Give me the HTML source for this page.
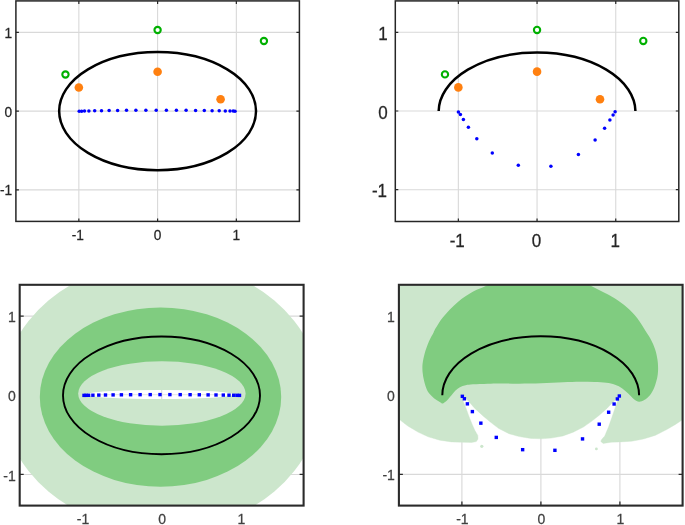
<!DOCTYPE html>
<html><head><meta charset="utf-8"><title>Figure</title>
<style>html,body{margin:0;padding:0;background:#fff}svg{display:block}text{font-family:"Liberation Sans",sans-serif}</style>
</head><body>
<svg width="685" height="525" viewBox="0 0 685 525">
<rect width="685" height="525" fill="#fff"/>
<line x1="78.85" y1="0.90" x2="78.85" y2="221.40" stroke="#d9d9d9" stroke-width="1.1"/>
<line x1="15.90" y1="189.85" x2="299.40" y2="189.85" stroke="#d9d9d9" stroke-width="1.1"/>
<line x1="157.60" y1="0.90" x2="157.60" y2="221.40" stroke="#d9d9d9" stroke-width="1.1"/>
<line x1="15.90" y1="111.10" x2="299.40" y2="111.10" stroke="#d9d9d9" stroke-width="1.1"/>
<line x1="236.35" y1="0.90" x2="236.35" y2="221.40" stroke="#d9d9d9" stroke-width="1.1"/>
<line x1="15.90" y1="32.35" x2="299.40" y2="32.35" stroke="#d9d9d9" stroke-width="1.1"/>
<ellipse cx="157.60" cy="111.10" rx="98.44" ry="59.06" fill="none" stroke="#000" stroke-width="2.5"/>
<circle cx="79.20" cy="111.19" r="1.75" fill="#0000ff"/>
<circle cx="81.60" cy="111.13" r="1.75" fill="#0000ff"/>
<circle cx="84.50" cy="111.06" r="1.75" fill="#0000ff"/>
<circle cx="88.90" cy="110.96" r="1.75" fill="#0000ff"/>
<circle cx="94.70" cy="110.84" r="1.75" fill="#0000ff"/>
<circle cx="101.50" cy="110.71" r="1.75" fill="#0000ff"/>
<circle cx="109.10" cy="110.58" r="1.75" fill="#0000ff"/>
<circle cx="117.60" cy="110.46" r="1.75" fill="#0000ff"/>
<circle cx="126.50" cy="110.36" r="1.75" fill="#0000ff"/>
<circle cx="135.90" cy="110.28" r="1.75" fill="#0000ff"/>
<circle cx="145.90" cy="110.22" r="1.75" fill="#0000ff"/>
<circle cx="156.20" cy="110.20" r="1.75" fill="#0000ff"/>
<circle cx="166.40" cy="110.21" r="1.75" fill="#0000ff"/>
<circle cx="176.40" cy="110.26" r="1.75" fill="#0000ff"/>
<circle cx="186.10" cy="110.33" r="1.75" fill="#0000ff"/>
<circle cx="195.60" cy="110.43" r="1.75" fill="#0000ff"/>
<circle cx="204.30" cy="110.55" r="1.75" fill="#0000ff"/>
<circle cx="212.10" cy="110.68" r="1.75" fill="#0000ff"/>
<circle cx="219.20" cy="110.81" r="1.75" fill="#0000ff"/>
<circle cx="225.30" cy="110.94" r="1.75" fill="#0000ff"/>
<circle cx="230.00" cy="111.04" r="1.75" fill="#0000ff"/>
<circle cx="233.20" cy="111.12" r="1.75" fill="#0000ff"/>
<circle cx="235.00" cy="111.16" r="1.75" fill="#0000ff"/>
<circle cx="78.85" cy="87.47" r="4.3" fill="#ff8010"/>
<circle cx="157.60" cy="71.72" r="4.3" fill="#ff8010"/>
<circle cx="220.60" cy="99.29" r="4.3" fill="#ff8010"/>
<circle cx="65.46" cy="74.48" r="3.15" fill="#fff" stroke="#00b000" stroke-width="2.1"/>
<circle cx="157.60" cy="29.99" r="3.15" fill="#fff" stroke="#00b000" stroke-width="2.1"/>
<circle cx="263.91" cy="41.01" r="3.15" fill="#fff" stroke="#00b000" stroke-width="2.1"/>
<rect x="15.90" y="0.90" width="283.50" height="220.50" fill="none" stroke="#262626" stroke-width="1.5"/>
<path d="M78.85 221.40v-3M78.85 0.90v3M15.90 189.85h3M299.40 189.85h-3" stroke="#262626" stroke-width="1.2" fill="none"/>
<path d="M157.60 221.40v-3M157.60 0.90v3M15.90 111.10h3M299.40 111.10h-3" stroke="#262626" stroke-width="1.2" fill="none"/>
<path d="M236.35 221.40v-3M236.35 0.90v3M15.90 32.35h3M299.40 32.35h-3" stroke="#262626" stroke-width="1.2" fill="none"/>
<text transform="translate(77.75 239.90) scale(1 1.08)" font-size="13.7" text-anchor="middle" fill="#262626" stroke="#262626" stroke-width="0.25">-1</text>
<text transform="translate(12.10 195.37) scale(1 1.08)" font-size="13.7" text-anchor="end" fill="#262626" stroke="#262626" stroke-width="0.25">-1</text>
<text transform="translate(157.60 239.90) scale(1 1.08)" font-size="13.7" text-anchor="middle" fill="#262626" stroke="#262626" stroke-width="0.25">0</text>
<text transform="translate(12.10 116.62) scale(1 1.08)" font-size="13.7" text-anchor="end" fill="#262626" stroke="#262626" stroke-width="0.25">0</text>
<text transform="translate(236.35 239.90) scale(1 1.08)" font-size="13.7" text-anchor="middle" fill="#262626" stroke="#262626" stroke-width="0.25">1</text>
<text transform="translate(12.10 37.87) scale(1 1.08)" font-size="13.7" text-anchor="end" fill="#262626" stroke="#262626" stroke-width="0.25">1</text>
<line x1="458.35" y1="0.90" x2="458.35" y2="221.50" stroke="#d9d9d9" stroke-width="1.1"/>
<line x1="395.30" y1="189.70" x2="678.80" y2="189.70" stroke="#d9d9d9" stroke-width="1.1"/>
<line x1="537.05" y1="0.90" x2="537.05" y2="221.50" stroke="#d9d9d9" stroke-width="1.1"/>
<line x1="395.30" y1="111.00" x2="678.80" y2="111.00" stroke="#d9d9d9" stroke-width="1.1"/>
<line x1="615.75" y1="0.90" x2="615.75" y2="221.50" stroke="#d9d9d9" stroke-width="1.1"/>
<line x1="395.30" y1="32.30" x2="678.80" y2="32.30" stroke="#d9d9d9" stroke-width="1.1"/>
<path d="M438.67 111.00 A98.38 59.03 0 0 1 635.42 111.00" fill="none" stroke="#000" stroke-width="2.5"/>
<circle cx="458.40" cy="112.00" r="1.75" fill="#0000ff"/>
<circle cx="460.40" cy="114.50" r="1.75" fill="#0000ff"/>
<circle cx="463.40" cy="119.50" r="1.75" fill="#0000ff"/>
<circle cx="468.40" cy="127.20" r="1.75" fill="#0000ff"/>
<circle cx="476.80" cy="138.70" r="1.75" fill="#0000ff"/>
<circle cx="492.30" cy="152.90" r="1.75" fill="#0000ff"/>
<circle cx="518.30" cy="165.20" r="1.75" fill="#0000ff"/>
<circle cx="615.10" cy="111.70" r="1.75" fill="#0000ff"/>
<circle cx="613.10" cy="115.00" r="1.75" fill="#0000ff"/>
<circle cx="609.90" cy="120.00" r="1.75" fill="#0000ff"/>
<circle cx="604.60" cy="128.20" r="1.75" fill="#0000ff"/>
<circle cx="595.10" cy="139.90" r="1.75" fill="#0000ff"/>
<circle cx="578.40" cy="154.40" r="1.75" fill="#0000ff"/>
<circle cx="550.90" cy="166.20" r="1.75" fill="#0000ff"/>
<circle cx="458.35" cy="87.39" r="4.3" fill="#ff8010"/>
<circle cx="537.05" cy="71.65" r="4.3" fill="#ff8010"/>
<circle cx="600.01" cy="99.19" r="4.3" fill="#ff8010"/>
<circle cx="444.97" cy="74.40" r="3.15" fill="#fff" stroke="#00b000" stroke-width="2.1"/>
<circle cx="537.05" cy="29.94" r="3.15" fill="#fff" stroke="#00b000" stroke-width="2.1"/>
<circle cx="643.29" cy="40.96" r="3.15" fill="#fff" stroke="#00b000" stroke-width="2.1"/>
<rect x="395.30" y="0.90" width="283.50" height="220.60" fill="none" stroke="#262626" stroke-width="1.5"/>
<path d="M458.35 221.50v-3M458.35 0.90v3M395.30 189.70h3M678.80 189.70h-3" stroke="#262626" stroke-width="1.2" fill="none"/>
<path d="M537.05 221.50v-3M537.05 0.90v3M395.30 111.00h3M678.80 111.00h-3" stroke="#262626" stroke-width="1.2" fill="none"/>
<path d="M615.75 221.50v-3M615.75 0.90v3M395.30 32.30h3M678.80 32.30h-3" stroke="#262626" stroke-width="1.2" fill="none"/>
<text transform="translate(457.25 247.00) scale(1 1.08)" font-size="17" text-anchor="middle" fill="#262626" stroke="#262626" stroke-width="0.25">-1</text>
<text transform="translate(387.00 197.44) scale(1 1.08)" font-size="17" text-anchor="end" fill="#262626" stroke="#262626" stroke-width="0.25">-1</text>
<text transform="translate(536.55 247.00) scale(1 1.08)" font-size="17" text-anchor="middle" fill="#262626" stroke="#262626" stroke-width="0.25">0</text>
<text transform="translate(387.80 118.75) scale(1 1.08)" font-size="17" text-anchor="end" fill="#262626" stroke="#262626" stroke-width="0.25">0</text>
<text transform="translate(615.25 247.00) scale(1 1.08)" font-size="17" text-anchor="middle" fill="#262626" stroke="#262626" stroke-width="0.25">1</text>
<text transform="translate(387.80 40.05) scale(1 1.08)" font-size="17" text-anchor="end" fill="#262626" stroke="#262626" stroke-width="0.25">1</text>
<defs><clipPath id="c3"><rect x="19.7" y="284.8" width="283.90000000000003" height="220.8"/></clipPath>
<filter id="bl" x="-5%" y="-5%" width="110%" height="110%"><feGaussianBlur stdDeviation="0.45"/></filter></defs>
<g filter="url(#bl)">
<g clip-path="url(#c3)">
<line x1="82.55" y1="284.80" x2="82.55" y2="505.60" stroke="#d9d9d9" stroke-width="1.15"/>
<line x1="19.70" y1="474.45" x2="303.60" y2="474.45" stroke="#d9d9d9" stroke-width="1.15"/>
<line x1="161.70" y1="284.80" x2="161.70" y2="505.60" stroke="#d9d9d9" stroke-width="1.15"/>
<line x1="19.70" y1="395.30" x2="303.60" y2="395.30" stroke="#d9d9d9" stroke-width="1.15"/>
<line x1="240.85" y1="284.80" x2="240.85" y2="505.60" stroke="#d9d9d9" stroke-width="1.15"/>
<line x1="19.70" y1="316.15" x2="303.60" y2="316.15" stroke="#d9d9d9" stroke-width="1.15"/>
<path d="M82.55 505.60v-4M19.70 474.45h4M303.60 474.45h-4" stroke="#2c2c2c" stroke-width="1.3" fill="none"/>
<path d="M161.70 505.60v-4M19.70 395.30h4M303.60 395.30h-4" stroke="#2c2c2c" stroke-width="1.3" fill="none"/>
<path d="M240.85 505.60v-4M19.70 316.15h4M303.60 316.15h-4" stroke="#2c2c2c" stroke-width="1.3" fill="none"/>
<ellipse cx="161.4" cy="396.0" rx="159.8" ry="135.0" fill="#cce6cc"/>
<ellipse cx="160.5" cy="397.1" rx="120.7" ry="89.6" fill="#80cc80"/>
<ellipse cx="161.9" cy="393.5" rx="83.7" ry="32.3" fill="#cce6cc"/>
<ellipse cx="159.8" cy="394.5" rx="73.5" ry="4.6" fill="#fff"/>
<line x1="161.7" y1="390" x2="161.7" y2="399" stroke="#d9d9d9" stroke-width="1.15"/>
<line x1="100" y1="394.7" x2="225" y2="394.7" stroke="#e4e4e4" stroke-width="1"/>
<ellipse cx="161.5" cy="395.4" rx="98.5" ry="58.9" fill="none" stroke="#000" stroke-width="1.9"/>
<rect x="82.30" y="393.67" width="3.4" height="3.4" fill="#0000ff"/>
<rect x="84.30" y="393.64" width="3.4" height="3.4" fill="#0000ff"/>
<rect x="86.90" y="393.59" width="3.4" height="3.4" fill="#0000ff"/>
<rect x="91.20" y="393.51" width="3.4" height="3.4" fill="#0000ff"/>
<rect x="97.10" y="393.41" width="3.4" height="3.4" fill="#0000ff"/>
<rect x="103.80" y="393.30" width="3.4" height="3.4" fill="#0000ff"/>
<rect x="111.40" y="393.20" width="3.4" height="3.4" fill="#0000ff"/>
<rect x="119.70" y="393.11" width="3.4" height="3.4" fill="#0000ff"/>
<rect x="128.90" y="393.02" width="3.4" height="3.4" fill="#0000ff"/>
<rect x="138.40" y="392.96" width="3.4" height="3.4" fill="#0000ff"/>
<rect x="148.50" y="392.92" width="3.4" height="3.4" fill="#0000ff"/>
<rect x="158.30" y="392.90" width="3.4" height="3.4" fill="#0000ff"/>
<rect x="168.20" y="392.91" width="3.4" height="3.4" fill="#0000ff"/>
<rect x="178.50" y="392.94" width="3.4" height="3.4" fill="#0000ff"/>
<rect x="188.40" y="393.00" width="3.4" height="3.4" fill="#0000ff"/>
<rect x="197.60" y="393.08" width="3.4" height="3.4" fill="#0000ff"/>
<rect x="206.40" y="393.18" width="3.4" height="3.4" fill="#0000ff"/>
<rect x="214.30" y="393.28" width="3.4" height="3.4" fill="#0000ff"/>
<rect x="221.60" y="393.39" width="3.4" height="3.4" fill="#0000ff"/>
<rect x="227.30" y="393.48" width="3.4" height="3.4" fill="#0000ff"/>
<rect x="232.00" y="393.57" width="3.4" height="3.4" fill="#0000ff"/>
<rect x="235.30" y="393.63" width="3.4" height="3.4" fill="#0000ff"/>
<rect x="237.80" y="393.68" width="3.4" height="3.4" fill="#0000ff"/>
</g>
<rect x="19.70" y="284.80" width="283.90" height="220.80" fill="none" stroke="#2c2c2c" stroke-width="2.1"/>
<text transform="translate(83.05 523.90) scale(1 1.08)" font-size="14" text-anchor="middle" fill="#404040" stroke="#404040" stroke-width="0.25">-1</text>
<text transform="translate(15.70 480.54) scale(1 1.08)" font-size="14" text-anchor="end" fill="#404040" stroke="#404040" stroke-width="0.25">-1</text>
<text transform="translate(162.20 523.90) scale(1 1.08)" font-size="14" text-anchor="middle" fill="#404040" stroke="#404040" stroke-width="0.25">0</text>
<text transform="translate(15.70 401.39) scale(1 1.08)" font-size="14" text-anchor="end" fill="#404040" stroke="#404040" stroke-width="0.25">0</text>
<text transform="translate(241.35 523.90) scale(1 1.08)" font-size="14" text-anchor="middle" fill="#404040" stroke="#404040" stroke-width="0.25">1</text>
<text transform="translate(15.70 322.24) scale(1 1.08)" font-size="14" text-anchor="end" fill="#404040" stroke="#404040" stroke-width="0.25">1</text>
</g>
<defs><clipPath id="c4"><rect x="398.9" y="284.8" width="283.70000000000005" height="220.8"/></clipPath></defs>
<g filter="url(#bl)">
<g clip-path="url(#c4)">
<line x1="461.90" y1="284.80" x2="461.90" y2="505.60" stroke="#d9d9d9" stroke-width="1.15"/>
<line x1="398.90" y1="474.30" x2="682.60" y2="474.30" stroke="#d9d9d9" stroke-width="1.15"/>
<line x1="540.90" y1="284.80" x2="540.90" y2="505.60" stroke="#d9d9d9" stroke-width="1.15"/>
<line x1="398.90" y1="395.30" x2="682.60" y2="395.30" stroke="#d9d9d9" stroke-width="1.15"/>
<line x1="619.90" y1="284.80" x2="619.90" y2="505.60" stroke="#d9d9d9" stroke-width="1.15"/>
<line x1="398.90" y1="316.30" x2="682.60" y2="316.30" stroke="#d9d9d9" stroke-width="1.15"/>
<path d="M461.90 505.60v-4M398.90 474.30h4M682.60 474.30h-4" stroke="#2c2c2c" stroke-width="1.3" fill="none"/>
<path d="M540.90 505.60v-4M398.90 395.30h4M682.60 395.30h-4" stroke="#2c2c2c" stroke-width="1.3" fill="none"/>
<path d="M619.90 505.60v-4M398.90 316.30h4M682.60 316.30h-4" stroke="#2c2c2c" stroke-width="1.3" fill="none"/>
<path d="M398 284L398.0 419.0L400.1 420.0L407.7 425.9L417.9 432.0L428.1 436.8L439.8 440.2L451.5 441.9L461.7 442.2L471.9 442.4L476.3 441.6L478.0 439.0L477.8 435.4L474.8 430.3L471.9 423.7L469.0 416.4L466.1 408.4L463.4 401.8L461.9 397.0L462.6 395.6L464.6 396.9L469.0 401.8L474.8 408.4L483.6 416.4L490.9 422.5L498.8 428.6L509.0 433.7L519.2 436.6L530.9 438.4L541.1 438.8L551.3 438.1L563.0 435.9L573.2 432.2L583.4 427.1L592.3 420.8L599.6 414.9L606.9 408.4L612.7 402.5L616.4 398.9L618.6 396.0L618.3 398.5L617.8 400.3L614.9 408.4L612.0 417.1L608.4 427.3L604.7 436.1L601.6 439.5L600.8 441.4L603.2 443.4L611.3 442.2L620.0 441.9L631.7 441.2L643.4 439.0L655.1 435.4L666.8 429.5L675.5 424.4L682.1 420.0L684.0 418.8L684 284Z" fill="#cce6cc" stroke="#cce6cc" stroke-width="0.4" stroke-linejoin="round"/>
<circle cx="481.8" cy="446.3" r="1.6" fill="#cce6cc"/>
<circle cx="596.4" cy="448.9" r="1.4" fill="#cce6cc"/>
<path d="M497.2 279.2C495.4 280.3 490.2 283.7 486.2 285.8C482.2 287.9 478.0 288.9 473.2 291.6C468.4 294.3 462.6 298.0 457.6 302.2C452.6 306.4 446.8 312.7 443.2 316.9C439.6 321.1 437.7 325.0 436.1 327.6C434.5 330.2 434.8 330.1 433.6 332.4C432.4 334.7 430.4 338.0 428.9 341.4C427.4 344.8 425.9 349.2 424.8 352.9C423.8 356.6 423.0 360.4 422.6 363.6C422.2 366.8 422.4 369.4 422.6 372.3C422.9 375.2 423.4 378.2 424.1 381.1C424.8 384.0 425.8 387.5 427.0 389.9C428.2 392.3 429.8 394.0 431.4 395.7C433.0 397.4 434.9 398.9 436.5 400.1C438.1 401.3 440.0 402.2 441.0 402.8C442.0 403.4 441.8 403.6 442.3 403.6C442.8 403.6 443.1 403.4 443.8 402.9C444.5 402.4 445.5 402.0 446.7 400.8C447.9 399.6 449.6 397.4 451.1 395.7C452.6 394.0 454.0 392.0 455.5 390.6C457.0 389.2 458.2 388.1 459.9 387.2C461.6 386.3 463.5 385.7 465.7 385.2C467.9 384.7 469.4 384.6 473.0 384.3C476.6 384.1 483.1 383.9 487.6 383.7C492.1 383.5 494.7 383.4 500.0 383.4C505.3 383.4 512.4 383.7 519.2 383.7C526.0 383.7 533.7 383.5 541.0 383.3C548.3 383.1 556.5 382.6 563.0 382.3C569.5 382.1 574.7 381.8 580.0 381.8C585.3 381.8 590.2 381.9 594.6 382.1C599.0 382.3 602.9 382.4 606.3 382.8C609.7 383.2 612.3 383.8 615.0 384.7C617.7 385.6 620.1 386.9 622.3 388.4C624.5 389.9 626.2 391.7 628.2 393.5C630.2 395.3 632.2 397.9 634.0 399.3C635.8 400.7 637.4 401.7 639.1 401.8C640.8 401.9 642.4 401.2 644.2 400.1C646.0 399.0 648.4 397.2 650.1 395.0C651.8 392.8 653.3 389.9 654.5 386.9C655.7 383.8 656.8 379.8 657.4 376.7C658.0 373.6 658.1 370.9 658.1 368.0C658.1 365.1 657.9 362.4 657.4 359.2C656.9 356.0 656.1 352.2 655.0 349.0C653.9 345.8 652.6 342.8 651.0 339.8C649.4 336.8 647.9 334.7 645.6 331.1C643.3 327.5 640.4 322.3 637.3 318.3C634.2 314.3 630.6 310.6 626.8 307.3C623.0 304.0 618.6 300.9 614.6 298.3C610.6 295.7 606.5 293.8 602.5 291.7C598.5 289.6 594.7 287.8 590.8 285.8C586.9 283.8 581.0 280.9 579.1 279.9Z" fill="#80cc80"/>
<path d="M442.30 395.30 A98.40 59.00 0 0 1 639.10 395.30" fill="none" stroke="#000" stroke-width="2"/>
<rect x="460.65" y="394.61" width="3.4" height="3.4" fill="#0000ff"/>
<rect x="462.69" y="397.08" width="3.4" height="3.4" fill="#0000ff"/>
<rect x="465.69" y="402.15" width="3.4" height="3.4" fill="#0000ff"/>
<rect x="470.68" y="409.90" width="3.4" height="3.4" fill="#0000ff"/>
<rect x="479.15" y="421.46" width="3.4" height="3.4" fill="#0000ff"/>
<rect x="494.58" y="435.71" width="3.4" height="3.4" fill="#0000ff"/>
<rect x="520.94" y="447.98" width="3.4" height="3.4" fill="#0000ff"/>
<rect x="617.64" y="394.31" width="3.4" height="3.4" fill="#0000ff"/>
<rect x="615.66" y="397.24" width="3.4" height="3.4" fill="#0000ff"/>
<rect x="612.41" y="402.31" width="3.4" height="3.4" fill="#0000ff"/>
<rect x="606.95" y="410.54" width="3.4" height="3.4" fill="#0000ff"/>
<rect x="597.53" y="422.49" width="3.4" height="3.4" fill="#0000ff"/>
<rect x="580.83" y="437.21" width="3.4" height="3.4" fill="#0000ff"/>
<rect x="553.21" y="448.61" width="3.4" height="3.4" fill="#0000ff"/>
</g>
<rect x="398.90" y="284.80" width="283.70" height="220.80" fill="none" stroke="#2c2c2c" stroke-width="2.1"/>
<text transform="translate(462.40 523.90) scale(1 1.08)" font-size="14" text-anchor="middle" fill="#404040" stroke="#404040" stroke-width="0.25">-1</text>
<text transform="translate(394.90 480.39) scale(1 1.08)" font-size="14" text-anchor="end" fill="#404040" stroke="#404040" stroke-width="0.25">-1</text>
<text transform="translate(541.40 523.90) scale(1 1.08)" font-size="14" text-anchor="middle" fill="#404040" stroke="#404040" stroke-width="0.25">0</text>
<text transform="translate(394.90 401.39) scale(1 1.08)" font-size="14" text-anchor="end" fill="#404040" stroke="#404040" stroke-width="0.25">0</text>
<text transform="translate(620.40 523.90) scale(1 1.08)" font-size="14" text-anchor="middle" fill="#404040" stroke="#404040" stroke-width="0.25">1</text>
<text transform="translate(394.90 322.39) scale(1 1.08)" font-size="14" text-anchor="end" fill="#404040" stroke="#404040" stroke-width="0.25">1</text>
</g>
</svg></body></html>
